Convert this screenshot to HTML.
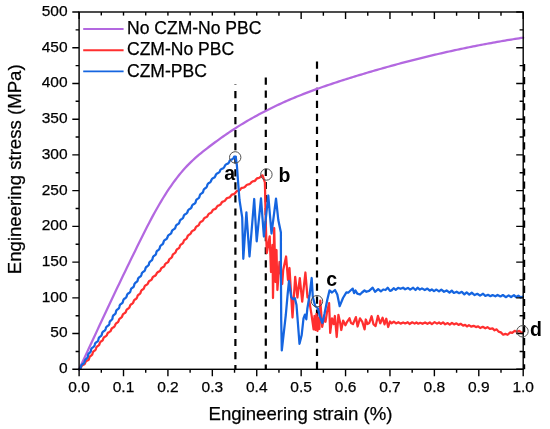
<!DOCTYPE html>
<html><head><meta charset="utf-8"><title>Engineering stress-strain</title>
<style>html,body{margin:0;padding:0;background:#fff;}body{width:550px;height:429px;overflow:hidden;}svg{display:block;}</style>
</head><body>
<svg width="550" height="429" viewBox="0 0 550 429">
<rect width="550" height="429" fill="#fff"/>
<g>
<line x1="235.4" y1="84.4" x2="235.4" y2="369.3" stroke="#000" stroke-width="2.2" stroke-dasharray="7.2 5.85" fill="none" stroke-dashoffset="6.5"/>
<line x1="265.8" y1="77.5" x2="265.8" y2="369.3" stroke="#000" stroke-width="2.2" stroke-dasharray="7.2 5.85" fill="none"/>
<line x1="317.0" y1="61.6" x2="317.0" y2="369.3" stroke="#000" stroke-width="2.2" stroke-dasharray="7.2 5.85" fill="none"/>
<line x1="524.1" y1="64" x2="524.1" y2="369.3" stroke="#000" stroke-width="2.2" stroke-dasharray="7.2 5.85" fill="none"/>
<g fill="none" stroke-width="2.25" stroke-linejoin="round" stroke-linecap="round">
<polyline stroke="#b368e0" points="79.1,369.3 81.1,365.01 83.1,360.71 85.1,356.42 87.1,352.12 89.1,347.82 91.1,343.52 93.1,339.22 95.1,334.93 97.1,330.63 99.1,326.35 101.1,322.06 103.1,317.79 105.1,313.52 107.1,309.25 109.1,305 111.1,300.76 113.1,296.52 115.1,292.3 117.1,288.09 119.1,283.9 121.1,279.72 123.1,275.55 125.1,271.4 127.1,267.27 129.1,263.15 131.1,259.05 133.1,254.96 135.1,250.89 137.1,246.83 139.1,242.78 141.1,238.75 143.1,234.73 145.1,230.75 147.1,226.81 149.1,222.92 151.1,219.11 153.1,215.38 155.1,211.74 157.1,208.18 159.1,204.71 161.1,201.33 163.1,198.04 165.1,194.84 167.1,191.73 169.1,188.71 171.1,185.78 173.1,182.95 175.1,180.22 177.1,177.58 179.1,175.05 181.1,172.61 183.1,170.27 185.1,168.03 187.1,165.89 189.1,163.84 191.1,161.87 193.1,159.97 195.1,158.15 197.1,156.38 199.1,154.68 201.1,153.02 203.1,151.41 205.1,149.83 207.1,148.28 209.1,146.75 211.1,145.25 213.1,143.75 215.1,142.27 217.1,140.81 219.1,139.36 221.1,137.93 223.1,136.52 225.1,135.12 227.1,133.75 229.1,132.39 231.1,131.05 233.1,129.73 235.1,128.44 237.1,127.16 239.1,125.9 241.1,124.66 243.1,123.44 245.1,122.24 247.1,121.05 249.1,119.89 251.1,118.74 253.1,117.61 255.1,116.49 257.1,115.4 259.1,114.32 261.1,113.25 263.1,112.2 265.1,111.17 267.1,110.15 269.1,109.15 271.1,108.16 273.1,107.19 275.1,106.23 277.1,105.29 279.1,104.36 281.1,103.44 283.1,102.54 285.1,101.64 287.1,100.77 289.1,99.9 291.1,99.04 293.1,98.2 295.1,97.37 297.1,96.55 299.1,95.74 301.1,94.94 303.1,94.16 305.1,93.38 307.1,92.61 309.1,91.85 311.1,91.1 313.1,90.36 315.1,89.63 317.1,88.91 319.1,88.19 321.1,87.48 323.1,86.78 325.1,86.09 327.1,85.41 329.1,84.73 331.1,84.06 333.1,83.39 335.1,82.73 337.1,82.08 339.1,81.43 341.1,80.78 343.1,80.14 345.1,79.51 347.1,78.88 349.1,78.25 351.1,77.63 353.1,77.01 355.1,76.39 357.1,75.78 359.1,75.17 361.1,74.57 363.1,73.96 365.1,73.37 367.1,72.77 369.1,72.18 371.1,71.59 373.1,71.01 375.1,70.43 377.1,69.85 379.1,69.28 381.1,68.71 383.1,68.14 385.1,67.58 387.1,67.02 389.1,66.46 391.1,65.91 393.1,65.36 395.1,64.82 397.1,64.28 399.1,63.74 401.1,63.21 403.1,62.68 405.1,62.15 407.1,61.63 409.1,61.11 411.1,60.59 413.1,60.08 415.1,59.57 417.1,59.07 419.1,58.57 421.1,58.07 423.1,57.58 425.1,57.09 427.1,56.6 429.1,56.12 431.1,55.64 433.1,55.17 435.1,54.69 437.1,54.23 439.1,53.76 441.1,53.3 443.1,52.85 445.1,52.39 447.1,51.94 449.1,51.5 451.1,51.06 453.1,50.62 455.1,50.19 457.1,49.76 459.1,49.33 461.1,48.91 463.1,48.49 465.1,48.07 467.1,47.66 469.1,47.25 471.1,46.85 473.1,46.45 475.1,46.05 477.1,45.66 479.1,45.27 481.1,44.88 483.1,44.5 485.1,44.13 487.1,43.75 489.1,43.38 491.1,43.02 493.1,42.65 495.1,42.29 497.1,41.94 499.1,41.59 501.1,41.24 503.1,40.9 505.1,40.56 507.1,40.22 509.1,39.89 511.1,39.56 513.1,39.24 515.1,38.92 517.1,38.6 519.1,38.29 521.1,37.98 523.1,37.68 523.2,37.66"/>
<polyline stroke="#ff2f2f" points="79.1,369.3 80.07,368.79 80.76,368.02 81.19,367.01 81.66,366.03 82.42,365.32 83.41,364.83 84.33,364.29 84.96,363.46 85.38,362.43 85.89,361.49 86.71,360.84 87.71,360.37 88.63,359.73 89.05,358.79 89.3,357.73 89.7,356.78 90.44,356.06 91.35,355.46 92.09,354.74 92.5,353.79 92.74,352.73 93.16,351.8 93.92,351.09 94.83,350.49 95.55,349.76 95.93,348.8 96.23,347.72 96.74,346.8 97.58,346.13 98.53,345.54 99.23,344.76 99.6,343.74 99.92,342.68 100.51,341.82 101.41,341.19 102.33,340.58 102.94,339.73 103.27,338.67 103.7,337.69 104.41,336.96 105.36,336.45 106.27,335.89 106.89,335.08 107.27,334.06 107.72,333.1 108.47,332.4 109.43,331.9 110.32,331.32 110.91,330.48 111.3,329.37 111.83,328.38 112.71,327.7 113.75,327.15 114.56,326.41 115.03,325.37 115.43,324.3 116.08,323.43 117.03,322.8 117.95,322.14 118.52,321.22 118.84,320.1 119.28,319.09 120.09,318.34 121.08,317.74 121.88,317 122.33,315.98 122.68,314.87 123.31,313.99 124.26,313.37 125.22,312.75 125.85,311.88 126.21,310.78 126.65,309.75 127.44,309 128.45,308.42 129.24,307.76 129.71,306.84 130.02,305.8 130.49,304.89 131.27,304.22 132.21,303.68 132.99,303.01 133.45,302.08 133.76,301.04 134.24,300.14 135.04,299.48 135.98,298.93 136.75,298.18 137.16,297.16 137.46,296.06 138.01,295.15 138.9,294.49 139.84,293.86 140.48,293 140.8,291.92 141.16,290.87 141.85,290.05 142.8,289.44 143.66,288.75 144.16,287.8 144.46,286.68 144.97,285.78 145.79,285.15 146.76,284.67 147.59,284.05 148.11,283.16 148.48,282.14 149.01,281.25 149.84,280.64 150.82,280.15 151.63,279.52 152.12,278.62 152.57,277.55 153.23,276.68 154.21,276.13 155.25,275.63 156.02,274.88 156.51,273.85 157.02,272.83 157.83,272.11 158.88,271.63 159.83,271.05 160.46,270.15 160.85,269.1 161.4,268.2 162.27,267.58 163.27,267.09 164.09,266.43 164.6,265.49 165,264.45 165.62,263.61 166.54,263.04 167.53,262.54 168.27,261.82 168.73,260.82 169.05,259.77 169.67,258.92 170.58,258.31 171.48,257.68 172.07,256.83 172.38,255.76 172.75,254.74 173.45,253.96 174.39,253.37 175.28,252.7 175.82,251.75 176.16,250.64 176.68,249.67 177.56,248.99 178.56,248.4 179.3,247.62 179.71,246.56 180.08,245.48 180.77,244.64 181.75,244.04 182.63,243.44 183.21,242.6 183.55,241.57 183.96,240.59 184.67,239.86 185.61,239.31 186.47,238.7 187.02,237.83 187.35,236.79 187.78,235.83 188.53,235.13 189.48,234.59 190.28,233.98 190.88,233.17 191.32,232.19 191.87,231.32 192.7,230.73 193.69,230.31 194.6,229.76 195.15,228.89 195.53,227.85 196.05,226.94 196.88,226.31 197.86,225.82 198.69,225.18 199.21,224.27 199.58,223.24 200.14,222.36 201.01,221.76 201.97,221.28 202.82,220.67 203.37,219.76 203.84,218.75 204.52,217.97 205.48,217.48 206.49,217.04 207.28,216.37 207.8,215.42 208.29,214.44 209.02,213.71 210.02,213.26 211.01,212.8 211.73,212.06 212.22,211.08 212.76,210.12 213.61,209.49 214.67,209.11 215.66,208.64 216.36,207.84 216.89,206.84 217.54,205.98 218.48,205.45 219.55,205.08 220.46,204.52 221.08,203.63 221.62,202.63 222.35,201.87 223.36,201.43 224.41,201.03 225.21,200.39 225.86,199.47 226.51,198.57 227.41,197.99 228.5,197.69 229.54,197.32 230.33,196.6 230.95,195.64 231.67,194.83 232.65,194.37 233.76,194.1 234.72,193.62 235.42,192.78 236.05,191.82 236.85,191.13 237.91,190.78 238.97,190.49 239.86,189.97 240.55,189.15 241.23,188.32 242.11,187.79 243.17,187.57 244.21,187.33 245.07,186.78 245.75,185.94 246.45,185.13 247.35,184.65 248.42,184.44 249.45,184.18 250.28,183.58 250.95,182.73 251.68,181.9 252.65,181.43 253.77,181.21 254.79,180.83 255.57,180.08 256.23,179.14 257.03,178.43 258.07,178.08 259.19,177.85 260.13,177.35 260.84,176.49 261.52,175.59 262.6,175.3 264.9,182.5 265.4,205 266,230 266.8,253 269.7,236.3 271,272 272.5,245 273,298 274.2,228 275.5,282 276.5,250 277.4,290 279.5,262 282.2,284 283.2,270 286.1,256.5 288,280 289.5,268 292.5,317.5 295.2,276.8 297.4,297.5 299.8,278.2 302.2,301.6 305.4,272.5 307.5,297.4 308.5,296 311.5,314.6 313.6,329.3 314.5,316 315.5,330 316.5,314 317.5,331 318.5,318 319.4,329 320.3,300.7 322.2,326.8 324,318 325.5,321.8 327,312 329.1,303.2 330.2,332.9 332,318.3 333.7,324.1 334.9,316 336.7,337 338.4,314.8 340.2,323 341.3,330 343.1,320.6 345.4,325.3 347.1,321.8 349.5,318.3 351,323 353,324.1 355.9,317.1 357.6,326.5 360,318.3 362.3,321.8 364.6,329.4 365.8,319.5 367.5,324 369.3,323 371.6,316.2 373.4,324.1 375.6,326.1 377.9,315.9 380.3,323.3 382.6,317.7 384.5,324.3 386.3,318.7 388.2,327 390,321.5 391.5,323.22 393.8,321.69 396.02,323.41 398.35,322.25 400.61,323.63 403.13,322.46 405.2,323.47 407.73,322.23 409.57,324.03 412.23,322.31 414.59,323.64 416.4,322.44 418.25,323.7 420.27,322.76 422.49,323.84 425.05,322.44 427.42,323.83 429.82,322.43 431.87,324.06 434.57,322.16 437,323.63 439.01,322.43 440.87,323.91 443.03,322.31 445.18,324.3 447.74,323.1 449.73,324.58 451.96,322.83 454.11,324.4 456.48,323.34 458.52,324.94 460.62,323.79 463.11,325.57 465.13,324.87 466.98,326.46 468.94,325.13 471.14,326.64 473.6,325.87 475.98,327.08 478.16,326.28 480.2,327.99 482.73,326.79 485.32,328.28 487.48,327.15 489.85,328.86 492.55,328.44 494.58,330.3 496.67,329.34 498.54,331.63 500.86,332.34 503.21,334.73 505.41,333.89 507.65,334.75 510.23,332.38 512.17,332.91 514.7,330.82 516.67,331.88 519.32,330.88 521.98,333.05 522.8,332.4"/>
<polyline stroke="#1565e0" points="79.1,369.3 80.05,368.63 80.67,367.74 80.98,366.62 81.29,365.51 81.92,364.63 82.88,363.96 83.82,363.29 84.43,362.39 84.73,361.27 85.04,360.16 85.67,359.33 86.52,358.56 87.35,357.79 87.84,356.83 87.99,355.69 88.15,354.57 88.66,353.62 89.5,352.85 90.34,352.08 90.85,351.13 91.01,350.01 91.29,348.95 91.84,348.09 92.7,347.44 93.62,346.84 94.31,346.07 94.68,345.08 94.92,344 95.36,343.05 96.13,342.34 97.07,341.75 97.88,341.04 98.3,340.09 98.5,339 98.8,337.97 99.43,337.15 100.33,336.5 101.17,335.82 101.71,334.94 101.96,333.87 102.2,332.78 102.79,331.91 103.69,331.26 104.64,330.65 105.32,329.85 105.68,328.81 105.96,327.71 106.49,326.79 107.35,326.12 108.31,325.52 109.09,324.72 109.37,323.68 109.5,322.56 109.83,321.55 110.53,320.75 111.42,320.05 112.15,319.26 112.51,318.27 112.64,317.15 112.9,316.1 113.51,315.25 114.38,314.55 115.22,313.86 115.72,312.95 115.95,311.87 116.21,310.8 116.77,309.94 117.64,309.27 118.53,308.61 119.13,307.77 119.41,306.72 119.63,305.62 120.11,304.7 120.93,304 121.86,303.39 122.58,302.63 122.97,301.64 123.19,300.54 123.57,299.56 124.3,298.81 125.23,298.19 126.05,297.55 126.57,296.67 126.85,295.62 127.17,294.6 127.79,293.8 128.68,293.2 129.6,292.6 130.23,291.77 130.53,290.73 130.76,289.64 131.23,288.71 132.05,288 132.98,287.38 133.7,286.61 134.08,285.62 134.31,284.47 134.75,283.45 135.56,282.68 136.54,282.04 137.32,281.25 137.73,280.21 137.96,279.06 138.41,278.05 139.23,277.29 140.21,276.65 140.99,275.89 141.41,274.87 141.68,273.73 142.13,272.74 142.95,272 143.94,271.39 144.74,270.64 145.18,269.63 145.43,268.47 145.88,267.44 146.7,266.68 147.7,266.04 148.49,265.26 148.91,264.21 149.16,263.05 149.63,262.05 150.42,261.32 151.36,260.68 152.12,259.92 152.52,258.93 152.74,257.81 153.11,256.8 153.84,256.03 154.79,255.39 155.6,254.67 156.06,253.72 156.29,252.61 156.61,251.56 157.28,250.74 158.21,250.1 159.07,249.41 159.6,248.5 159.86,247.43 160.15,246.38 160.74,245.53 161.62,244.88 162.53,244.25 163.17,243.44 163.49,242.41 163.75,241.3 164.3,240.42 165.17,239.79 166.15,239.24 166.94,238.55 167.4,237.6 167.71,236.52 168.17,235.57 168.96,234.87 169.94,234.33 170.8,233.7 171.36,232.81 171.68,231.75 172.07,230.74 172.74,229.96 173.68,229.39 174.6,228.79 175.24,227.98 175.58,226.95 175.9,225.89 176.47,225.03 177.35,224.41 178.31,223.85 179.05,223.12 179.47,222.14 179.76,221.07 180.23,220.13 181.03,219.44 182,218.89 182.83,218.23 183.34,217.32 183.64,216.25 184.03,215.25 184.74,214.48 185.71,213.94 186.64,213.36 187.28,212.54 187.65,211.5 188.03,210.45 188.67,209.64 189.61,209.07 190.58,208.52 191.31,207.77 191.72,206.77 192.07,205.7 192.63,204.82 193.51,204.2 194.52,203.66 195.26,202.93 195.68,201.96 195.93,200.88 196.34,199.91 197.07,199.17 198.01,198.58 198.85,197.92 199.37,197.03 199.65,195.96 199.98,194.89 200.65,194.06 201.6,193.43 202.51,192.77 203.1,191.88 203.4,190.79 203.72,189.7 204.35,188.84 205.28,188.2 206.21,187.56 206.84,186.7 207.16,185.61 207.46,184.52 208.05,183.63 208.96,182.97 209.92,182.48 210.65,181.79 211.11,180.85 211.46,179.83 211.98,178.95 212.8,178.34 213.78,177.86 214.64,177.29 215.22,176.47 215.59,175.45 216,174.48 216.68,173.74 217.61,173.23 218.54,172.75 219.32,172.11 219.83,171.2 220.26,170.21 220.85,169.38 221.71,168.83 222.72,168.43 223.62,167.92 224.25,167.13 224.69,166.15 225.17,165.21 225.9,164.52 226.86,164.08 227.85,163.65 228.63,162.98 229.15,162.04 229.59,161.02 230.22,160.19 231.14,159.66 232.17,159.24 233.05,158.67 233.64,157.79 234.16,156.72 235.7,156.6 236.9,165.5 238.2,183.5 239.5,200 242.2,217.4 243.3,258.8 246.4,212.4 249.5,256.5 254.2,199 256.7,241.3 261,198.3 263.9,236.5 268.3,195.5 271.5,233.5 276,198.6 278.3,220 280.9,232.5 280.9,265 281.2,320 281.8,350.4 285.8,315 287.7,293.7 289,281 291.2,297 292.8,299.2 294.9,298.2 296.5,305 299.5,343.8 301.7,335 303.5,318.3 304.9,314.6 306.3,319.3 307.3,309 309.6,295 311.7,278 312.8,297 315.2,306 318,308.5 319.9,316.5 322.4,323 324.5,313.7 327.3,299.7 329.5,290.5 332,292.5 335,290 337.3,294.6 339.7,306.2 343,298 346.4,292.3 348.2,292.7 350.5,290.5 352.7,288.6 354.1,293.2 355.5,290.5 357.3,293.6 360,294.5 362,292.5 364.5,290.5 366.4,291.8 369.1,290.9 372.7,287.7 375,291.8 378.2,289.1 380.9,291.4 383.2,289.5 385.5,290 387.7,287.7 390,290.9 391.5,290.33 393.65,288.21 395.72,289.81 398.09,287.92 400.6,288.79 403.03,287.73 405.12,289.25 407.95,287.89 410.17,289.6 413.12,287.77 415.52,290.06 417.56,287.74 419.85,289.64 421.97,288.4 424.79,290.05 427.37,288.59 429.74,290.71 431.8,289.36 434.01,291.15 436.44,289.55 439.02,291.39 441.32,289.63 444.02,291.75 446.59,290.39 449.47,292.69 451.76,290.62 453.88,292.94 456.63,291.75 459.12,293.23 461.79,291.86 464.36,294.4 466.68,292.41 469.27,294.63 471.73,292.75 474.67,295.03 477.34,293.8 480.04,295.63 483.03,293.75 485.32,295.91 487.98,294.77 490.45,296.18 492.56,295.01 495.33,296.32 497.58,294.94 500.45,296.46 502.9,295.02 505.78,297.18 508.65,295.41 511.06,297.03 513.95,295.09 516.1,297.06 518.33,295.75 520.81,297.5 522.8,296.6"/>
</g>
<g stroke="#000" stroke-width="1.4" fill="none" stroke-linecap="square">
<rect x="79.1" y="12" width="444.1" height="357.3"/>
<path stroke-linecap="butt" d="M79.1 369.3V376.3M79.1 12V19M101.3 369.3V372.8M101.3 12V15.7M123.51 369.3V376.3M123.51 12V19M145.72 369.3V372.8M145.72 12V15.7M167.92 369.3V376.3M167.92 12V19M190.12 369.3V372.8M190.12 12V15.7M212.33 369.3V376.3M212.33 12V19M234.54 369.3V372.8M234.54 12V15.7M256.74 369.3V376.3M256.74 12V19M278.95 369.3V372.8M278.95 12V15.7M301.15 369.3V376.3M301.15 12V19M323.36 369.3V372.8M323.36 12V15.7M345.56 369.3V376.3M345.56 12V19M367.76 369.3V372.8M367.76 12V15.7M389.97 369.3V376.3M389.97 12V19M412.18 369.3V372.8M412.18 12V15.7M434.38 369.3V376.3M434.38 12V19M456.59 369.3V372.8M456.59 12V15.7M478.79 369.3V376.3M478.79 12V19M501 369.3V372.8M501 12V15.7M523.2 369.3V376.3M523.2 12V19M79.1 369.3H72.3M523.2 369.3H516.2M79.1 351.44H75.6M523.2 351.44H519.6M79.1 333.57H72.3M523.2 333.57H516.2M79.1 315.71H75.6M523.2 315.71H519.6M79.1 297.84H72.3M523.2 297.84H516.2M79.1 279.98H75.6M523.2 279.98H519.6M79.1 262.11H72.3M523.2 262.11H516.2M79.1 244.25H75.6M523.2 244.25H519.6M79.1 226.38H72.3M523.2 226.38H516.2M79.1 208.52H75.6M523.2 208.52H519.6M79.1 190.65H72.3M523.2 190.65H516.2M79.1 172.78H75.6M523.2 172.78H519.6M79.1 154.92H72.3M523.2 154.92H516.2M79.1 137.06H75.6M523.2 137.06H519.6M79.1 119.19H72.3M523.2 119.19H516.2M79.1 101.32H75.6M523.2 101.32H519.6M79.1 83.46H72.3M523.2 83.46H516.2M79.1 65.6H75.6M523.2 65.6H519.6M79.1 47.73H72.3M523.2 47.73H516.2M79.1 29.87H75.6M523.2 29.87H519.6M79.1 12H72.3M523.2 12H516.2"/>
</g>
<g fill="none" stroke="#505050" stroke-width="1.0">
<circle cx="235.2" cy="157.4" r="5.7"/>
<circle cx="266.4" cy="174.5" r="5.7"/>
<circle cx="317" cy="301.2" r="5.7"/>
<circle cx="522.5" cy="331.3" r="5.7"/>
</g>
<g font-family="Liberation Sans, Arial, sans-serif" font-size="15.5" fill="#000" stroke="#000" stroke-width="0.25">
<text x="67.6" y="373.2" text-anchor="end">0</text>
<text x="67.6" y="337.47" text-anchor="end">50</text>
<text x="67.6" y="301.74" text-anchor="end">100</text>
<text x="67.6" y="266.01" text-anchor="end">150</text>
<text x="67.6" y="230.28" text-anchor="end">200</text>
<text x="67.6" y="194.55" text-anchor="end">250</text>
<text x="67.6" y="158.82" text-anchor="end">300</text>
<text x="67.6" y="123.09" text-anchor="end">350</text>
<text x="67.6" y="87.36" text-anchor="end">400</text>
<text x="67.6" y="51.63" text-anchor="end">450</text>
<text x="67.6" y="15.9" text-anchor="end">500</text>
<text x="79.1" y="391.8" text-anchor="middle">0.0</text>
<text x="123.51" y="391.8" text-anchor="middle">0.1</text>
<text x="167.92" y="391.8" text-anchor="middle">0.2</text>
<text x="212.33" y="391.8" text-anchor="middle">0.3</text>
<text x="256.74" y="391.8" text-anchor="middle">0.4</text>
<text x="301.15" y="391.8" text-anchor="middle">0.5</text>
<text x="345.56" y="391.8" text-anchor="middle">0.6</text>
<text x="389.97" y="391.8" text-anchor="middle">0.7</text>
<text x="434.38" y="391.8" text-anchor="middle">0.8</text>
<text x="478.79" y="391.8" text-anchor="middle">0.9</text>
<text x="523.2" y="391.8" text-anchor="middle">1.0</text>
</g>
<g font-family="Liberation Sans, Arial, sans-serif" font-size="18.6" fill="#000" stroke="#000" stroke-width="0.25">
<text x="208.5" y="419.9">Engineering strain (%)</text>
<text transform="translate(20.9 274.2) rotate(-90)">Engineering stress (MPa)</text>
</g>
<rect x="80" y="15.6" width="186" height="60" fill="#fff"/>
<g stroke-width="1.9">
<line x1="83.2" x2="123.6" y1="29" y2="29" stroke="#b368e0"/>
<line x1="83.2" x2="123.6" y1="50.2" y2="50.2" stroke="#ff2f2f"/>
<line x1="83.2" x2="123.6" y1="71.4" y2="71.4" stroke="#1565e0"/>
</g>
<g font-family="Liberation Sans, Arial, sans-serif" font-size="17.55" fill="#000" stroke="#000" stroke-width="0.25">
<text x="127" y="34.2">No CZM-No PBC</text>
<text x="127" y="55.4">CZM-No PBC</text>
<text x="127" y="76.6">CZM-PBC</text>
</g>
<g font-family="Liberation Sans, Arial, sans-serif" font-size="19.5" font-weight="bold" fill="#000">
<text x="224.3" y="180.2">a</text>
<text x="278.5" y="181.9">b</text>
<text x="326.2" y="286.4">c</text>
<text x="530" y="336.3">d</text>
</g>
</g>
</svg>
</body></html>
